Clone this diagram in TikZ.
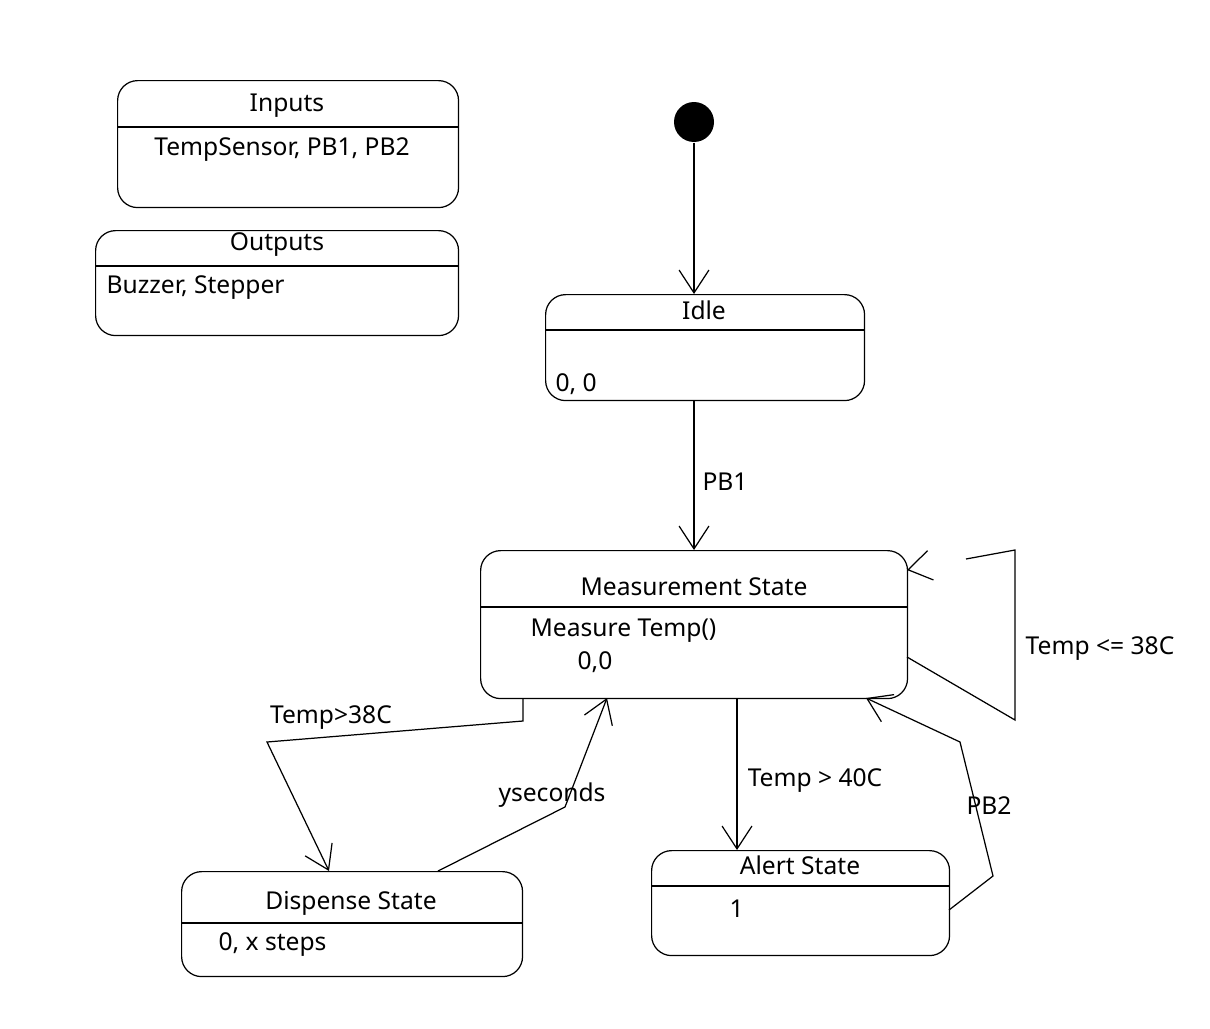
\documentclass[tikz,border=0pt]{standalone}
\usepackage{fontspec}
\setmainfont{Noto Sans}
\usetikzlibrary{arrows.meta}
\tikzset{
  state/.style={draw, rounded corners=0.4cm, minimum width=#1, inner sep=0pt},
  lbl/.style={font=\fontsize{14}{16}\selectfont, inner sep=0pt},
  trans/.style={-{Straight Barb[length=13pt,width=17pt]}},
}
\begin{document}
\begin{tikzpicture}[x=0.02cm, y=-0.02cm, line width=0.7pt]
\useasboundingbox (0,0) rectangle (1210,1028);
% boxes
\node[state=6.82cm, minimum height=2.54cm, anchor=north west] (inputs) at (117,80) {};
\draw (117,127) -- (458,127);
\node[lbl] (inT) at (287,106) {Inputs};
\node[lbl] (inB) at (282,150) {TempSensor, PB1, PB2};
\node[state=7.26cm, minimum height=2.1cm, anchor=north west] (outputs) at (95,230) {};
\draw (95,266) -- (458,266);
\node[lbl] (outT) at (277,245) {Outputs};
\node[lbl, anchor=west] (outB) at (106,288) {Buzzer, Stepper};
\node[state=6.38cm, minimum height=2.12cm, anchor=north west] (idle) at (545,294) {};
\draw (545,330) -- (864,330);
\node[lbl] (idleT) at (704,310) {Idle};
\node[lbl, anchor=west] (idleB) at (555,384) {0, 0};
\node[state=8.54cm, minimum height=2.96cm, anchor=north west] (meas) at (480,550) {};
\draw (480,607) -- (907,607);
\node[lbl] (measT) at (694,587) {Measurement State};
\node[lbl, anchor=west] (measB) at (530,631) {Measure Temp()};
\node[lbl, anchor=west] (measC) at (577,662) {0,0};
\node[state=6.82cm, minimum height=2.1cm, anchor=north west] (disp) at (181,871) {};
\draw (181,923) -- (522,923);
\node[lbl] (dispT) at (351,903) {Dispense State};
\node[lbl, anchor=west] (dispB) at (218,945) {0, x steps};
\node[state=5.96cm, minimum height=2.1cm, anchor=north west] (alert) at (651,850) {};
\draw (651,886) -- (949,886);
\node[lbl] (alertT) at (800,865) {Alert State};
\node[lbl, anchor=west] (alertB) at (729,909) {1};
% start
\node[circle, fill, minimum size=0.8cm, inner sep=0pt] (start) at (694,122) {};
% transitions
\draw[trans] (start) -- (694,294);
\draw[trans] (694,400) -- (694,550);
\node[lbl] (pb1) at (725,482) {PB1};
\draw (907,657) -- (1015,720) -- (1015,550) -- (966,559);
\draw[trans] (908.5,569.7) -- (907,570);
\node[lbl] (le38) at (1100,649) {Temp <= 38C};
\draw[trans] (523,698) -- (523,721) -- (267,742) -- (329,871);
\node[lbl] (gt38) at (331,718) {Temp>38C};
\draw[trans] (438,871) -- (565,807) -- (607,698);
\node[lbl] (ysec) at (552,795) {yseconds};
\draw[trans] (737,698) -- (737,850);
\node[lbl] (gt40) at (815,781) {Temp > 40C};
\draw[trans] (949,910) -- (993,876) -- (960,742) -- (866,698);
\node[lbl] (pb2) at (989,806) {PB2};
\end{tikzpicture}
\end{document}
